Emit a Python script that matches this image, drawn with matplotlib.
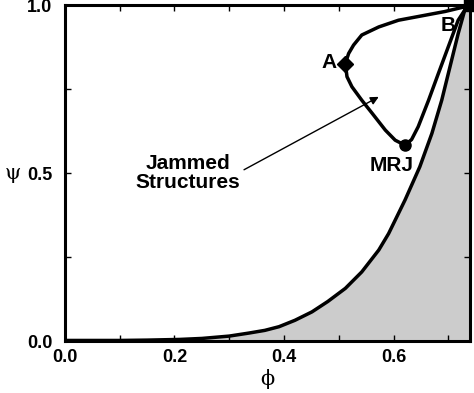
import matplotlib.pyplot as plt
import numpy as np

# lower boundary of the jammed region (gray area underneath)
phi_low = [0.0, 0.1, 0.15, 0.209, 0.25, 0.30, 0.336, 0.365, 0.391, 0.420, 0.451, 0.480,
           0.512, 0.542, 0.573, 0.591, 0.621, 0.648, 0.670, 0.688, 0.703, 0.718, 0.730, 0.74]
psi_low = [0.002, 0.002, 0.003, 0.005, 0.008, 0.015, 0.024, 0.032, 0.043, 0.062, 0.087, 0.118,
           0.157, 0.206, 0.271, 0.320, 0.420, 0.519, 0.618, 0.717, 0.816, 0.915, 0.985, 1.0]

# closed loop B -> A -> MRJ -> B
phi_loop = [0.74, 0.730, 0.694, 0.645, 0.609, 0.573, 0.542, 0.527, 0.518, 0.512,
            0.515, 0.524, 0.542, 0.561, 0.585, 0.603, 0.621,
            0.633, 0.645, 0.664, 0.682, 0.700, 0.718, 0.730, 0.74]
psi_loop = [1.0, 0.995, 0.981, 0.966, 0.955, 0.935, 0.911, 0.881, 0.856, 0.826,
            0.787, 0.757, 0.717, 0.678, 0.628, 0.598, 0.583,
            0.600, 0.638, 0.717, 0.797, 0.876, 0.955, 0.985, 1.0]

pt_A = (0.512, 0.826)
pt_B = (0.74, 1.0)
pt_MRJ = (0.621, 0.583)

xticks = [0.0, 0.2, 0.4, 0.6]
yticks = [0.0, 0.5, 1.0]

plt.rcParams['font.family'] = ['Liberation Sans', 'DejaVu Sans']

fig = plt.figure(figsize=(4.74, 3.93), dpi=100)
ax = fig.add_axes([0.137, 0.132, 0.855, 0.855])

ax.fill_between(phi_low, psi_low, 0, color='#cccccc', lw=0)
ax.plot(phi_low, psi_low, color='black', lw=2.5, solid_joinstyle='round')
ax.plot(phi_loop, psi_loop, color='black', lw=2.5, solid_joinstyle='round')

ax.plot(*pt_A, marker='D', color='black', ms=8, clip_on=False)
ax.plot(*pt_MRJ, marker='o', color='black', ms=8, clip_on=False)
ax.plot(*pt_B, marker='s', color='black', ms=8.5, clip_on=False, zorder=5)

bold = dict(fontsize=15, fontweight='bold')
ax.text(0.482, 0.83, 'A', ha='center', va='center', **bold)
ax.text(0.70, 0.94, 'B', ha='center', va='center', **bold)
ax.text(0.596, 0.524, 'MRJ', ha='center', va='center', **bold)
ax.text(0.224, 0.50, 'Jammed\nStructures', ha='center', va='center',
        linespacing=1.05, **bold)

ax.annotate('', xy=(0.573, 0.727), xytext=(0.327, 0.51),
            arrowprops=dict(arrowstyle='-|>', color='black', lw=1,
                            mutation_scale=12, shrinkA=0, shrinkB=0))

ax.set_xlim(0, 0.74)
ax.set_ylim(0, 1.0)
ax.set_xticks(xticks)
ax.set_xticks(np.arange(0, 0.74, 0.1), minor=True)
ax.set_yticks(yticks)
ax.set_yticks([0.25, 0.75], minor=True)
ax.set_xticklabels([f'{t:.1f}' for t in xticks], fontsize=13, fontweight='bold')
ax.set_yticklabels([f'{t:.1f}' for t in yticks], fontsize=13, fontweight='bold')
ax.tick_params(which='both', direction='in', top=True, right=True, width=1, length=4)
ax.tick_params(axis='x', pad=6)
ax.tick_params(axis='y', pad=9)
ax.set_xlabel('ϕ', fontsize=15, labelpad=2, family='DejaVu Serif')
ax.set_ylabel('ψ', fontsize=15, rotation=0, ha='center', va='center',
              family='DejaVu Serif')
ax.yaxis.set_label_coords(-0.128, 0.5)
for s in ax.spines.values():
    s.set_linewidth(2.2)

fig.savefig('out.png', dpi=100)
